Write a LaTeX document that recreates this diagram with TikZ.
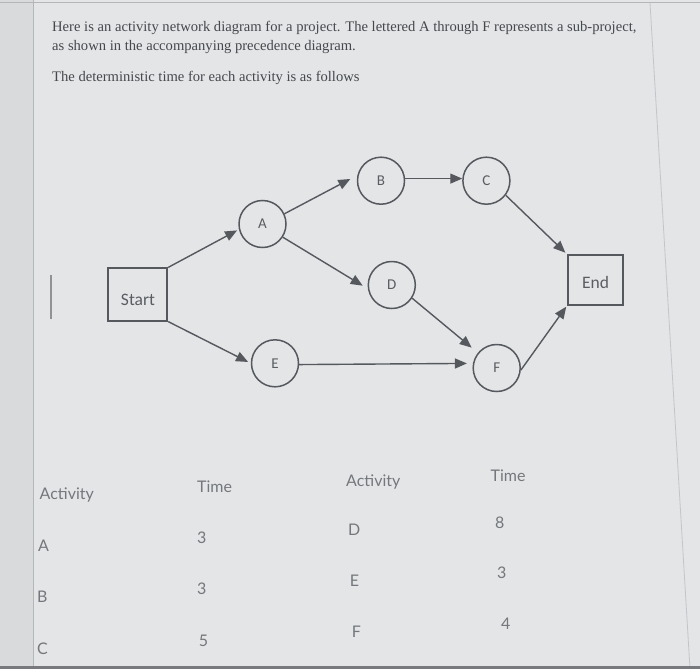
\documentclass[tikz,border=0pt]{standalone}
\usepackage{fontspec}
\setmainfont{Liberation Serif}
\newfontfamily\diagfont{Carlito}
\newfontfamily\tabfont{Lato}
\usetikzlibrary{arrows.meta}
\definecolor{bgc}{HTML}{E3E5E7}
\definecolor{stripc}{HTML}{D8DADC}
\definecolor{framec}{HTML}{B4B7BA}
\definecolor{linec}{HTML}{55585D}
\definecolor{diagtext}{HTML}{5A5D61}
\definecolor{toptext}{HTML}{45484C}
\definecolor{tabtext}{HTML}{74777B}
\tikzset{
  circnode/.style={circle, draw=linec, line width=1.5pt, minimum size=47pt, inner sep=0pt,
    font=\diagfont\fontsize{15}{15}\selectfont, text=diagtext},
  boxnode/.style={rectangle, draw=linec, line width=1.8pt, inner sep=0pt},
  boxlabel/.style={font=\diagfont\fontsize{17.5}{17.5}\selectfont, text=diagtext, inner sep=0pt},
  arr/.style={draw=linec, line width=1.4pt, -{Triangle[length=12pt,width=10pt]}},
  toptxt/.style={anchor=base west, inner sep=0pt, font=\fontsize{14.6}{14.6}\selectfont, text=toptext},
  tabtxt/.style={anchor=base west, inner sep=0pt, font=\tabfont\fontsize{16}{16}\selectfont, text=tabtext},
}
\begin{document}
\begin{tikzpicture}[x=1pt,y=-1pt]
\useasboundingbox (0,0) rectangle (700,669);
\fill[bgc] (0,0) rectangle (700,669);
\fill[stripc] (0,0) rectangle (33,669);
\draw[framec, line width=1pt] (33,0) -- (33,669);
\draw[framec, line width=1pt] (0,3) -- (700,3);
\draw[framec!80, line width=0.8pt] (650,3) -- (690,669);
\fill[linec!80] (0,666) rectangle (700,669);

% top text
\node[toptxt] (t1) at (52,31) {Here is an activity network diagram for a project. The lettered A through F represents a sub-project,};
\node[toptxt] (t2) at (52,51) {as shown in the accompanying precedence diagram.};
\node[toptxt] (t3) at (52,81) {The deterministic time for each activity is as follows};

% cursor bar
\draw[tabtext!80, line width=1.3pt] (51,275) -- (51,319);

% diagram
\node[boxnode, minimum width=59.6pt, minimum height=52.4pt] (start) at (137.5,294.5) {};
\node[boxlabel] (startlbl) at (138,299.5) {Start};
\node[boxnode, minimum width=55.6pt, minimum height=50pt] (end) at (595.5,280) {};
\node[boxlabel] (endlbl) at (595.5,282) {End};

\node[circnode] (A) at (262.5,224) {A};
\node[circnode] (B) at (381,180.7) {B};
\node[circnode] (C) at (486.4,180.7) {C};
\node[circnode] (D) at (391.8,285) {D};
\node[circnode] (E) at (275,363.3) {E};
\node[circnode] (F) at (496.7,368) {F};

\draw[arr, shorten >=2pt] (start.north east) -- (A.193);
\draw[arr, shorten >=3pt] (start.south east) -- (E.west);
\draw[arr, shorten >=8pt] (A.25) -- (B.167);
\draw[arr, shorten >=6pt] (A.-33) -- (D.189);
\draw[arr] (B.5) -- (C.175);
\draw[arr, shorten >=2pt] (C.-37) -- (end.north west);
\draw[arr, shorten >=8pt] (D.-33) -- (F.141);
\draw[arr, shorten >=6pt] (E.-3) -- (F.169);
\draw[arr, shorten >=1pt] (F.-5) -- (end.south west);

% table
\node[tabtxt] (h1) at (39.5,499) {Activity};
\node[tabtxt] (h2) at (197,492) {Time};
\node[tabtxt] (h3) at (346,486.5) {Activity};
\node[tabtxt] (h4) at (490.5,481) {Time};
\node[tabtxt] (ra) at (38,551) {A};
\node[tabtxt] (ta) at (197,543.5) {3};
\node[tabtxt] (rd) at (348,535) {D};
\node[tabtxt] (td) at (495,528.5) {8};
\node[tabtxt] (rb) at (37,602.5) {B};
\node[tabtxt] (tb) at (197,594) {3};
\node[tabtxt] (re) at (349.6,586) {E};
\node[tabtxt] (te) at (497,578.5) {3};
\node[tabtxt] (rc) at (37,654) {C};
\node[tabtxt] (tc) at (198.7,646) {5};
\node[tabtxt] (rf) at (351.7,637) {F};
\node[tabtxt] (tf) at (501,629) {4};
\end{tikzpicture}
\end{document}
